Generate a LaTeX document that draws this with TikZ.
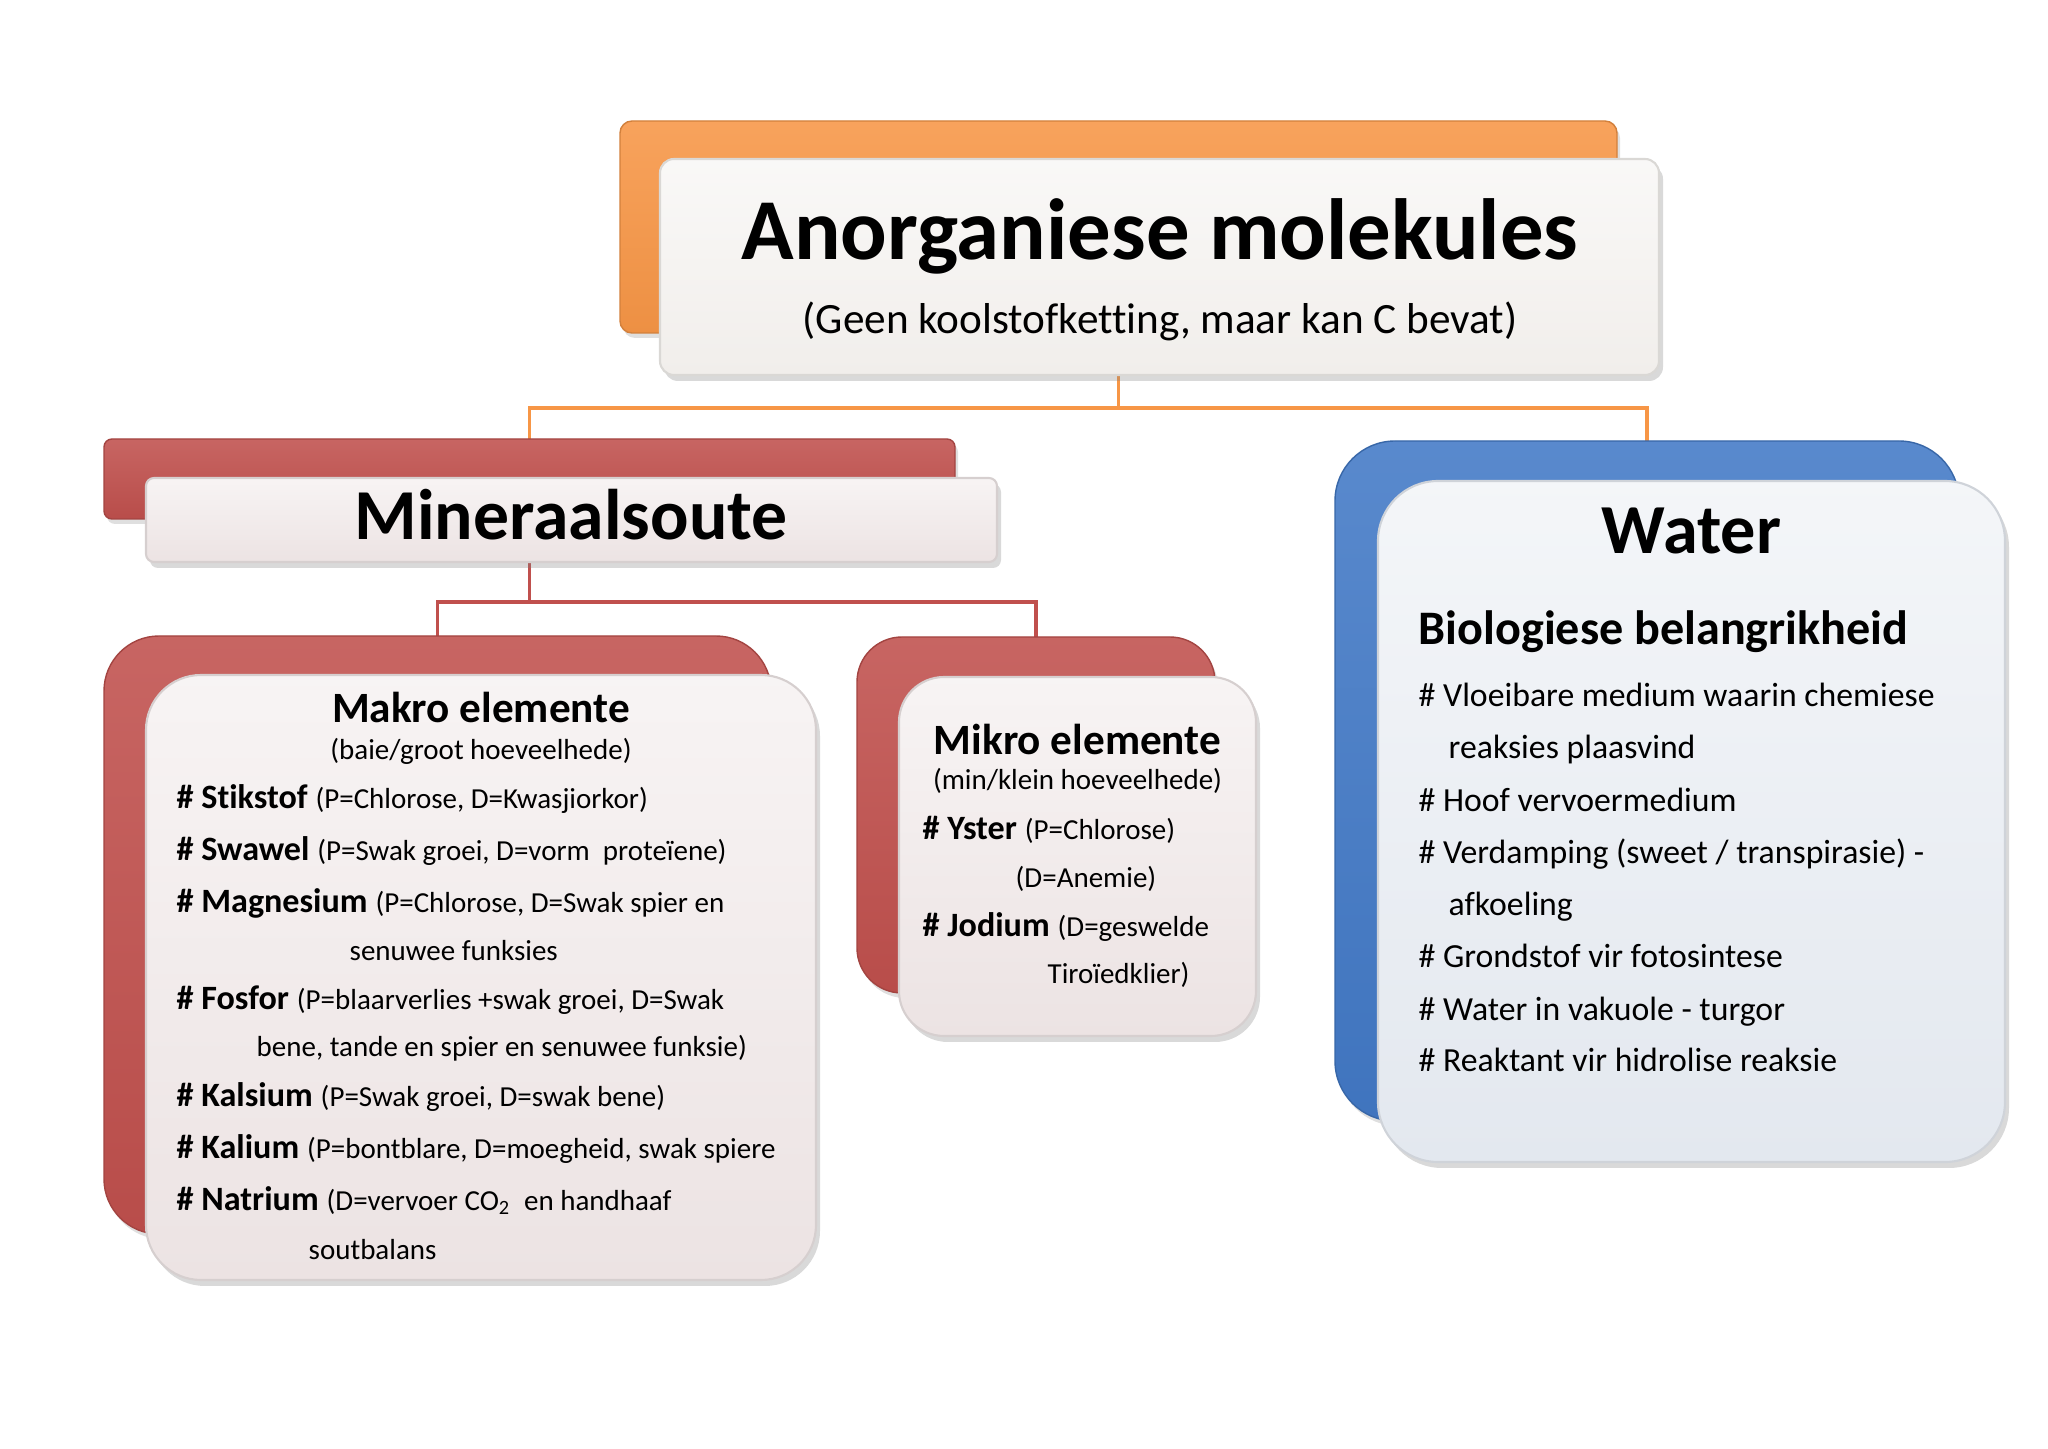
\documentclass[tikz,border=0pt]{standalone}
\usepackage{fontspec}
\setmainfont{Carlito}[Ligatures=NoCommon]
\usetikzlibrary{shadows,backgrounds}
\definecolor{oranje}{HTML}{F79646}
\definecolor{rooi}{HTML}{C0504D}
\definecolor{blou}{HTML}{4279C6}
\definecolor{ligoranje}{HTML}{F1EEEB}
\definecolor{ligrooi}{HTML}{ECE3E3}
\definecolor{ligblou}{HTML}{E3E8EF}
\newcommand{\elnaam}[1]{{\fontsize{9.7}{11}\selectfont\bfseries #1}}
\newcommand{\elbes}[1]{{\fontsize{8.25}{10}\selectfont #1}}
\tikzset{
  agterblok/.style={inner sep=0pt, outer sep=0pt, draw=#1!85!black, line width=0.4pt,
    top color=#1!88!white, bottom color=#1!96!black,
    drop shadow={shadow xshift=0.03cm, shadow yshift=-0.05cm, opacity=0.25}},
  voorblok/.style={inner sep=0pt, outer sep=0pt, draw=#1!80!gray, line width=0.6pt,
    top color=#1!40!white, bottom color=#1,
    drop shadow={shadow xshift=0.04cm, shadow yshift=-0.06cm, opacity=0.3}},
  lyn/.style={anchor=base west, inner sep=0pt},
  kop/.style={anchor=base, inner sep=0pt, font=\bfseries}
}
\begin{document}
\begin{tikzpicture}
    \useasboundingbox (0,0) rectangle (20.48,14.48);
    % blokke agter
\foreach \n/\c/\x/\y/\w/\h/\r in
{topagter/oranje/11.185/12.21/9.97/2.12/0.12,
    minagter/rooi/5.295/9.69/8.51/0.80/0.08,
    makroagter/rooi/4.375/5.13/6.67/5.98/0.55,
    mikroagter/rooi/10.36/6.33/3.58/3.56/0.45,
    wateragter/blou/16.47/6.67/6.24/6.80/0.6
}
{
    \node[agterblok=\c, minimum width=\w cm, minimum height=\h cm, rounded corners=\r cm] (\n) at (\x,\y) {};
};
    % blokke voor
\foreach \n/\c/\x/\y/\w/\h/\r in
{topvoor/ligoranje/11.595/11.81/9.99/2.16/0.14,
    minvoor/ligrooi/5.715/9.28/8.51/0.84/0.08,
    makrovoor/ligrooi/4.81/4.705/6.70/6.05/0.55,
    mikrovoor/ligrooi/10.775/5.915/3.57/3.59/0.45,
    watervoor/ligblou/16.915/6.265/6.27/6.81/0.6
}
{
    \node[voorblok=\c, minimum width=\w cm, minimum height=\h cm, rounded corners=\r cm] (\n) at (\x,\y) {};
};
    % verbindings
\begin{scope}[on background layer]
    \coordinate (cTopBalk) at (11.185,10.40);
    \coordinate (cMinBalk) at (5.295,8.46);
    \draw[oranje, line width=1.1pt] (topagter.south) -- (cTopBalk) -| (minagter.north);
    \draw[oranje, line width=1.1pt] (cTopBalk) -| (wateragter.north);
    \draw[rooi, line width=1.1pt] (minagter.south) -- (cMinBalk) -| (makroagter.north);
    \draw[rooi, line width=1.1pt] (cMinBalk) -| (mikroagter.north);
\end{scope}
    % opskrifte
    \node[kop, font=\fontsize{24.7}{28}\selectfont\bfseries] (titel) at (11.60,11.88) {Anorganiese molekules};
    \node[kop, font=\fontsize{12.3}{14}\selectfont] (subtitel) at (11.60,11.14) {(Geen koolstofketting, maar kan C bevat)};
    \node[kop, font=\fontsize{20.4}{24}\selectfont\bfseries] (minteks) at (5.71,9.08) {Mineraalsoute};
    \node[kop, font=\fontsize{12.3}{14}\selectfont\bfseries] (makroteks) at (4.81,7.25) {Makro elemente};
    \node[kop, font=\fontsize{8.25}{10}\selectfont] (makrosub) at (4.81,6.88) {(baie/groot hoeveelhede)};
    \node[kop, font=\fontsize{12.3}{14}\selectfont\bfseries] (mikroteks) at (10.775,6.93) {Mikro elemente};
    \node[kop, font=\fontsize{8.25}{10}\selectfont] (mikrosub) at (10.775,6.58) {(min/klein hoeveelhede)};
    \node[kop, font=\fontsize{20}{24}\selectfont\bfseries] (waterteks) at (16.915,8.94) {Water};
    \node[lyn, font=\fontsize{13.7}{16}\selectfont\bfseries] (biolteks) at (14.18,8.03) {Biologiese belangrikheid};
    % makro elemente
\foreach \x/\y/\t [count=\i] in
{1.76/6.39/{\elnaam{\# Stikstof} \elbes{(P=Chlorose, D=Kwasjiorkor)}},
    1.76/5.87/{\elnaam{\# Swawel} \elbes{(P=Swak groei, D=vorm\ \ proteïene)}},
    1.76/5.35/{\elnaam{\# Magnesium} \elbes{(P=Chlorose, D=Swak spier en}},
    3.49/4.87/{\elbes{senuwee funksies}},
    1.76/4.38/{\elnaam{\# Fosfor} \elbes{(P=blaarverlies +swak groei, D=Swak}},
    2.56/3.91/{\elbes{bene, tande en spier en senuwee funksie)}},
    1.76/3.41/{\elnaam{\# Kalsium} \elbes{(P=Swak groei, D=swak bene)}},
    1.76/2.89/{\elnaam{\# Kalium} \elbes{(P=bontblare, D=moegheid, swak spiere}},
    1.76/2.37/{\elnaam{\# Natrium} \elbes{(D=vervoer CO\textsubscript{2}\ \ en handhaaf}},
    3.08/1.89/{\elbes{soutbalans}}
}
{
    \node[lyn] (makro\i) at (\x,\y) {\t};
};
    % mikro elemente
\foreach \x/\y/\t [count=\i] in
{9.22/6.08/{\elnaam{\# Yster} \elbes{(P=Chlorose)}},
    10.15/5.60/{\elbes{(D=Anemie)}},
    9.22/5.11/{\elnaam{\# Jodium} \elbes{(D=geswelde}},
    10.47/4.64/{\elbes{Tiroïedklier)}}
}
{
    \node[lyn] (mikro\i) at (\x,\y) {\t};
};
    % water
\foreach \x/\y/\t [count=\i] in
{14.18/7.41/{\# Vloeibare medium waarin chemiese},
    14.48/6.89/{reaksies plaasvind},
    14.18/6.36/{\# Hoof vervoermedium},
    14.18/5.84/{\# Verdamping (sweet / transpirasie) -},
    14.48/5.32/{afkoeling},
    14.18/4.80/{\# Grondstof vir fotosintese},
    14.18/4.27/{\# Water in vakuole - turgor},
    14.18/3.76/{\# Reaktant vir hidrolise reaksie}
}
{
    \node[lyn, font=\fontsize{9.6}{11}\selectfont] (water\i) at (\x,\y) {\t};
};

\end{tikzpicture}
\end{document}
